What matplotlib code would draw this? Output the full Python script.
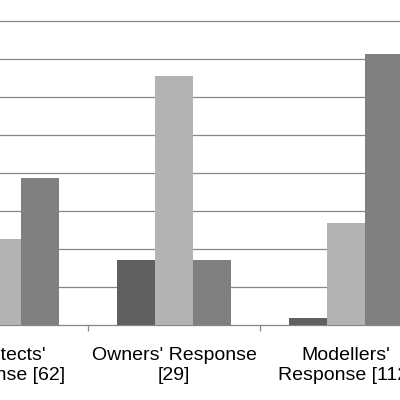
import matplotlib
matplotlib.use("Agg")
import matplotlib.pyplot as plt
import matplotlib.transforms as mtransforms
import numpy as np

categories = ["Architects'\nResponse [62]", "Owners' Response\n[29]", "Modellers'\nResponse [112]"]
series_dark = [38.7, 17.2, 1.8]
series_light = [22.6, 65.5, 26.8]
series_mid = [38.7, 17.2, 71.4]
y_ticks = [10, 20, 30, 40, 50, 60, 70, 80]

plt.rcParams['font.family'] = ['Liberation Sans', 'DejaVu Sans']

fig = plt.figure(figsize=(4, 4), dpi=100)
ax = fig.add_axes([0, 0.1875, 1, 0.8125])

x = np.arange(len(categories))
w = 38 / 172
colors = ["#606060", "#b3b3b3", "#808080"]
for k, (vals, c) in enumerate(zip([series_dark, series_light, series_mid], colors)):
    ax.bar(x + (k - 1) * w, vals, width=w, color=c, zorder=3, linewidth=0)

ax.set_ylim(0, 325 / 38 * 10)
ax.set_xlim(-2 / 172, 398 / 172)
ax.set_yticks(y_ticks)
ax.yaxis.grid(True, color="#868686", linewidth=0.9, zorder=0)
ax.tick_params(axis='y', left=False, labelleft=False)
ax.set_xticks([0.5, 1.5])
ax.set_xticklabels([])
ax.tick_params(axis='x', direction='out', length=4, color="#868686", width=0.9)
for s in ['left', 'right', 'top']:
    ax.spines[s].set_visible(False)
ax.spines['bottom'].set_color("#868686")
ax.spines['bottom'].set_linewidth(0.9)

trans = mtransforms.blended_transform_factory(ax.transData, ax.transAxes)
offset = mtransforms.ScaledTranslation(0, -22 / 100, fig.dpi_scale_trans)
for i, lab in enumerate(categories):
    ax.text(i, 0, lab, transform=trans + offset, ha='center', va='top',
            fontsize=14, linespacing=1.2, color="black")

fig.savefig("out.png", dpi=100)
